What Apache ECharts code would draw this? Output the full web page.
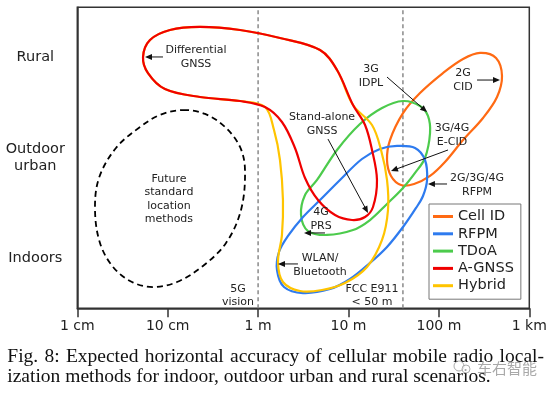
<!DOCTYPE html>
<html><head><meta charset="utf-8">
<script src="https://cdn.jsdelivr.net/npm/echarts@6/dist/echarts.min.js"></script>
<style>html,body{margin:0;padding:0;background:#fff}#c{width:555px;height:394px}</style>
</head><body><div id="c"></div>
<script>
// x values are log10(accuracy in metres); y values are scenario levels (Indoors 0.5, Outdoor urban 1.5, Rural 2.5)
const xTickLabels = ['1 cm', '10 cm', '1 m', '10 m', '100 m', '1 km']; // at -2 .. 3
const scenarios = ['Indoors', 'Outdoor\nurban', 'Rural'];          // at 0.5, 1.5, 2.5
const legendNames = ['Cell ID', 'RFPM', 'TDoA', 'A-GNSS', 'Hybrid'];

const cellId = [[2.455,2.545],[2.632,2.495],[2.698,2.315],[2.643,2.106],[2.488,1.897],[2.267,1.677],[2.067,1.458],[1.902,1.319],[1.725,1.239],[1.581,1.229],[1.470,1.319],[1.426,1.478],[1.459,1.677],[1.603,1.946],[1.791,2.146],[2.045,2.345],[2.267,2.485]];
const rfpm = [[1.537,1.618],[1.736,1.598],[1.846,1.478],[1.869,1.279],[1.824,1.119],[1.747,1.000],[1.603,0.810],[1.426,0.611],[1.238,0.452],[1.017,0.292],[0.795,0.192],[0.497,0.152],[0.287,0.212],[0.209,0.382],[0.231,0.561],[0.331,0.721],[0.497,0.910],[0.685,1.079],[0.906,1.279],[1.149,1.488],[1.348,1.588]];
const tdoa = [[1.603,2.066],[1.791,2.016],[1.879,1.917],[1.902,1.747],[1.846,1.498],[1.736,1.349],[1.603,1.199],[1.426,1.040],[1.238,0.880],[1.050,0.780],[0.762,0.731],[0.552,0.770],[0.475,0.930],[0.519,1.129],[0.652,1.279],[0.873,1.578],[1.127,1.837],[1.371,1.996]];
const aGnss = [[-1.273,2.505],[-1.196,2.674],[-0.975,2.774],[-0.643,2.804],[-0.200,2.774],[0.242,2.694],[0.685,2.574],[0.873,2.375],[1.050,2.026],[1.183,1.827],[1.260,1.578],[1.315,1.279],[1.271,1.010],[1.183,0.910],[1.039,0.880],[0.851,0.930],[0.663,1.079],[0.519,1.299],[0.408,1.598],[0.264,1.857],[0.076,2.006],[-0.200,2.066],[-0.643,2.106],[-1.030,2.186],[-1.218,2.345]];
const hybrid = [[0.076,2.006],[0.176,1.777],[0.242,1.478],[0.275,1.079],[0.264,0.731],[0.220,0.461],[0.275,0.262],[0.464,0.172],[0.707,0.182],[0.961,0.252],[1.205,0.412],[1.371,0.681],[1.437,0.980],[1.426,1.279],[1.360,1.578],[1.260,1.827],[1.050,2.026],[0.873,2.375],[0.685,2.574],[0.242,2.694],[-0.200,2.774],[-0.643,2.804],[-0.975,2.774],[-1.196,2.674],[-1.273,2.505],[-1.218,2.345],[-1.030,2.186],[-0.643,2.106],[-0.200,2.066]];
const futureMethods = [[-0.831,1.976],[-0.587,1.937],[-0.366,1.807],[-0.200,1.608],[-0.145,1.378],[-0.189,0.980],[-0.355,0.651],[-0.610,0.422],[-0.897,0.262],[-1.163,0.212],[-1.395,0.262],[-1.605,0.412],[-1.749,0.651],[-1.804,0.980],[-1.760,1.299],[-1.572,1.598],[-1.306,1.807],[-1.085,1.927]];
const guideLines = [0, 1.602]; // 5G vision (1 m), FCC E911 line

const notes = [
  {text:'Differential\nGNSS', at:[-0.687,2.505], from:[-1.052,2.505], to:[-1.251,2.505]},
  {text:'3G\nIDPL', at:[1.249,2.315], from:[1.426,2.305], to:[1.869,1.956]},
  {text:'2G\nCID', at:[2.267,2.275], from:[2.422,2.275], to:[2.676,2.275]},
  {text:'Stand-alone\nGNSS', at:[0.707,1.837], from:[0.773,1.687], to:[1.216,0.950]},
  {text:'3G/4G\nE-CID', at:[2.145,1.727], from:[2.101,1.578], to:[1.470,1.368]},
  {text:'2G/3G/4G\nRFPM', at:[2.422,1.229], from:[2.090,1.239], to:[1.879,1.239]},
  {text:'4G\nPRS', at:[0.696,0.890], from:[0.740,0.751], to:[0.508,0.751]},
  {text:'WLAN/\nBluetooth', at:[0.685,0.432], from:[0.441,0.442], to:[0.220,0.442]},
  {text:'Future\nstandard\nlocation\nmethods', at:[-0.986,1.089]},
  {text:'5G\nvision', at:[-0.222,0.128]},
  {text:'FCC E911\n< 50 m', at:[1.260,0.128]}
];

const colors = {'Cell ID':'#FF6A13','RFPM':'#2E7BEF','TDoA':'#4CCB4C','A-GNSS':'#F00000','Hybrid':'#FFC400'};
const FONT = '"DejaVu Sans", Verdana, sans-serif';

function shapeSeries(name, pts, color, dash, z) {
  return {
    type:'custom', name: name, data: pts, encode:{x:0, y:1}, itemStyle:{color: color}, z: z, silent:true,
    renderItem: function(params, api) {
      if (params.dataIndex !== 0) return null;
      const points = pts.map(function(p){ return api.coord(p); });
      return {type:'polygon', shape:{points: points, smooth:0.35},
              style:{fill:'none', stroke:color, lineWidth: dash ? 1.8 : 2.2, lineDash: dash || null}};
    }
  };
}

const chart = echarts.init(document.getElementById('c'), null, {renderer:'canvas'});

// caption, justified first line
const ctx = document.createElement('canvas').getContext('2d');
const capFont = '19.5px "Liberation Serif", "Times New Roman", serif';
ctx.font = capFont;
const line1 = ['Fig.','8:','Expected','horizontal','accuracy','of','cellular','mobile','radio','local-'];
const widths = line1.map(function(w){ return ctx.measureText(w).width; });
const total = widths.reduce(function(a,b){return a+b;},0);
const capLeft = 7.3, capRight = 544;
const gap = (capRight - capLeft - total) / (line1.length - 1);
const graphics = [];
let cx = capLeft;
line1.forEach(function(w, i){
  graphics.push({type:'text', x:cx, y:357, silent:true, style:{text:w, font:capFont, fill:'#111', verticalAlign:'middle', align:'left'}});
  cx += widths[i] + gap;
});
graphics.push({type:'text', x:capLeft, y:377, silent:true, style:{text:'ization methods for indoor, outdoor urban and rural scenarios.', font:capFont, fill:'#111', verticalAlign:'middle', align:'left'}});
// watermark
graphics.push({type:'circle', shape:{cx:459, cy:366, r:5}, silent:true, style:{fill:'none', stroke:'rgba(140,140,140,0.7)', lineWidth:1}});
graphics.push({type:'circle', shape:{cx:466, cy:369, r:4}, silent:true, style:{fill:'rgba(255,255,255,0.6)', stroke:'rgba(140,140,140,0.7)', lineWidth:1}});
graphics.push({type:'text', x:477, y:368, silent:true, style:{text:'车右智能', font:'15px "Noto Sans CJK SC", sans-serif', fill:'rgba(140,140,140,0.75)', verticalAlign:'middle'}});

const option = {
  animation:false,
  backgroundColor:'#fff',
  grid:{left:77.3, right:25.7, top:7.3, bottom:85.7, show:true, borderColor:'#333', borderWidth:1.5, backgroundColor:'transparent'},
  xAxis:{type:'value', min:-2, max:3, interval:1,
    axisLine:{show:true, onZero:false, lineStyle:{color:'#333', width:1.5}},
    axisTick:{show:true, inside:false, length:9, lineStyle:{color:'#333', width:1.5}},
    splitLine:{show:false},
    axisLabel:{margin:11, fontFamily:FONT, fontSize:14, color:'#222',
      formatter:function(v){ return xTickLabels[Math.round(v)+2] || ''; }}},
  yAxis:{type:'value', min:0, max:3, interval:0.5,
    axisLine:{show:true, onZero:false, lineStyle:{color:'#333', width:1.5}},
    axisTick:{show:false}, splitLine:{show:false},
    axisLabel:{margin:42, align:'center', fontFamily:FONT, fontSize:14.5, color:'#222', lineHeight:16.5,
      formatter:function(v){ const i = Math.round(v - 0.5); return (Math.abs(v - 0.5 - i) < 1e-6 && scenarios[i]) ? scenarios[i] : ''; }}},
  legend:{data:legendNames, orient:'vertical', left:429, top:204, padding:[4,7,5,4], itemGap:0.3,
    icon:'rect', itemWidth:20, itemHeight:3, borderColor:'#777', borderWidth:1, backgroundColor:'#fff',
    selectedMode:false,
    textStyle:{fontFamily:FONT, fontSize:14.5, color:'#222', lineHeight:17}},
  graphic: graphics,
  series:[
    {type:'custom', name:'guides', data: guideLines.map(function(g){return [g, 0];}), encode:{x:0,y:1}, silent:true, z:1,
      renderItem:function(params, api){
        const a = api.coord([api.value(0), 0]), b = api.coord([api.value(0), 3]);
        return {type:'line', shape:{x1:a[0], y1:a[1], x2:b[0], y2:b[1]}, style:{stroke:'#8a8a8a', lineWidth:1.5, lineDash:[4,3]}};
      }},
    shapeSeries('Future standard location methods', futureMethods, '#000', [6,4], 2),
    shapeSeries('Cell ID', cellId, colors['Cell ID'], null, 3),
    shapeSeries('TDoA', tdoa, colors['TDoA'], null, 3),
    shapeSeries('RFPM', rfpm, colors['RFPM'], null, 3),
    shapeSeries('Hybrid', hybrid, colors['Hybrid'], null, 3),
    shapeSeries('A-GNSS', aGnss, colors['A-GNSS'], null, 3),
    {type:'custom', name:'notes', data: notes.map(function(n){return n.at;}), encode:{x:0,y:1}, silent:true, z:5,
      renderItem:function(params, api){
        const n = notes[params.dataIndex];
        const p = api.coord(n.at);
        const children = [{type:'text', x:p[0], y:p[1], style:{text:n.text, font:'11px ' + FONT, fill:'#222', align:'center', verticalAlign:'middle', lineHeight:13.5}}];
        if (n.from) {
          const a = api.coord(n.from), b = api.coord(n.to);
          const dx = b[0]-a[0], dy = b[1]-a[1], L = Math.sqrt(dx*dx+dy*dy);
          const ux = dx/L, uy = dy/L, px = -uy, py = ux;
          const hl = 7, hw = 3;
          children.push({type:'line', shape:{x1:a[0], y1:a[1], x2:b[0]-ux*(hl-1), y2:b[1]-uy*(hl-1)}, style:{stroke:'#111', lineWidth:1}});
          children.push({type:'polygon', shape:{points:[[b[0],b[1]],[b[0]-ux*hl+px*hw, b[1]-uy*hl+py*hw],[b[0]-ux*hl-px*hw, b[1]-uy*hl-py*hw]]}, style:{fill:'#111'}});
        }
        return {type:'group', children:children};
      }}
  ]
};
chart.setOption(option);
</script>
</body></html>
